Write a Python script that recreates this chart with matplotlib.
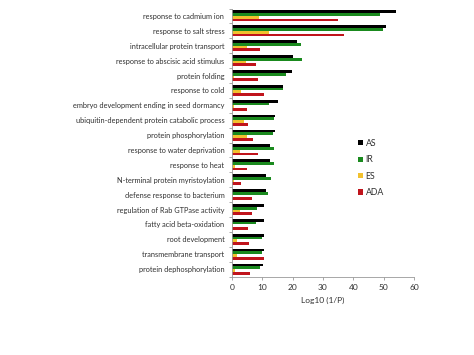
import matplotlib
matplotlib.use("Agg")
import matplotlib.pyplot as plt
import numpy as np
from matplotlib.patches import Patch

categories = [
    "response to cadmium ion",
    "response to salt stress",
    "intracellular protein transport",
    "response to abscisic acid stimulus",
    "protein folding",
    "response to cold",
    "embryo development ending in seed dormancy",
    "ubiquitin-dependent protein catabolic process",
    "protein phosphorylation",
    "response to water deprivation",
    "response to heat",
    "N-terminal protein myristoylation",
    "defense response to bacterium",
    "regulation of Rab GTPase activity",
    "fatty acid beta-oxidation",
    "root development",
    "transmembrane transport",
    "protein dephosphorylation",
]
AS = [54.2, 50.9, 21.5, 20.1, 19.8, 16.8, 15.0, 14.1, 14.1, 12.6, 12.5, 11.3, 11.3, 10.5, 10.5, 10.5, 10.4, 10.2]
IR = [48.7, 49.8, 22.9, 23.2, 17.9, 16.8, 12.2, 13.7, 13.6, 13.7, 14.0, 12.9, 11.9, 8.1, 7.8, 10.0, 10.0, 9.1]
ES = [8.8, 12.1, 5.1, 4.5, 0.7, 2.9, 0.7, 3.9, 5.0, 2.7, 1.1, 0.5, 0.3, 2.6, 0.3, 1.6, 1.6, 0.9]
ADA = [35.1, 37.0, 9.1, 7.9, 8.7, 10.6, 4.8, 5.2, 7.0, 8.7, 4.8, 3.1, 6.5, 6.6, 5.3, 5.6, 10.6, 5.9]
series_names = ["AS", "IR", "ES", "ADA"]
colors = ["#000000", "#1a8a1e", "#f2c12e", "#c0141c"]
xticks = [0, 10, 20, 30, 40, 50, 60]

plt.rcParams['font.family'] = ['Lato', 'DejaVu Sans']

fig = plt.figure(figsize=(4.74, 3.55), dpi=100)
ax = fig.add_axes([232/474, 1-276.5/355, (414-232)/474, (276.5-8.5)/355])

n = len(categories)
y = np.arange(n)
bh = 0.185
for i, (vals, c) in enumerate(zip([AS, IR, ES, ADA], colors)):
    ax.barh(y + (i - 1.5) * bh, vals, height=bh, color=c, linewidth=0)

ax.set_ylim(n - 0.5, -0.5)
ax.set_xlim(0, 60)
ax.set_xticks(xticks)
ax.set_yticks(y)
ax.set_yticklabels(categories, fontsize=5.3, color="#303030")
ax.tick_params(axis='y', length=0, pad=5.5)
ax.set_yticks(np.arange(-0.5, n, 1), minor=True)
ax.tick_params(axis='y', which='minor', length=2.5, color="#999999", width=0.6)
ax.tick_params(axis='x', labelsize=6, length=2.5, color="#999999", width=0.6, labelcolor="#303030", pad=3)
for s in ["top", "right"]:
    ax.spines[s].set_visible(False)
for s in ["left", "bottom"]:
    ax.spines[s].set_color("#999999")
    ax.spines[s].set_linewidth(0.6)
ax.set_xlabel("Log10 (1/P)", fontsize=6, color="#303030", labelpad=4)

handles = [Patch(facecolor=c, edgecolor='none') for c in colors]
leg = fig.legend(handles, series_names, loc='upper left', bbox_to_anchor=(350/474, 1-131/355),
                 frameon=False, fontsize=6.3, handlelength=0.55, handleheight=0.55,
                 labelspacing=0.85, handletextpad=0.35)
for t in leg.get_texts():
    t.set_color("#303030")

fig.savefig("out.png", dpi=100)
